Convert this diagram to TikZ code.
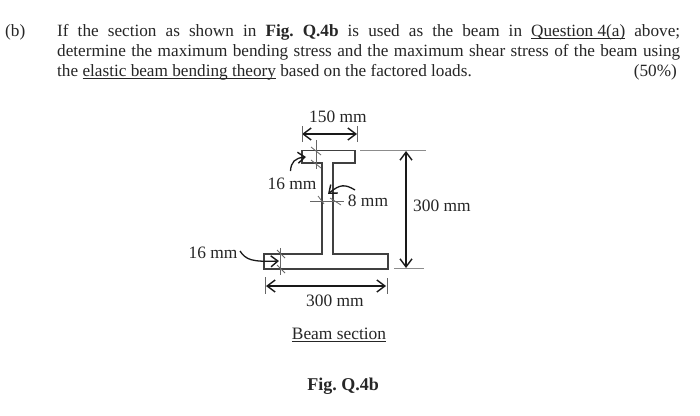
\documentclass[tikz,border=0pt]{standalone}
\usepackage{fontspec}
\setmainfont{Liberation Serif}
\usetikzlibrary{arrows.meta}
\frenchspacing
\newcommand\myul[1]{\leavevmode\setbox0=\hbox{#1}\rlap{\rule[-2.4pt]{\wd0}{0.9pt}}\box0 }
\tikzset{
  txt/.style={inner sep=0pt,anchor=base west,font=\fontsize{17.2}{18}\selectfont,text=black!85},
  lab/.style={inner sep=0pt,anchor=base,font=\fontsize{17.4}{18}\selectfont,text=black!85},
  sect/.style={draw=black!75,line width=1.3pt,line join=miter},
  dim/.style={draw=black!90,line width=1.3pt,{Straight Barb[length=8pt,width=12pt,line width=1.4pt]}-{Straight Barb[length=8pt,width=12pt,line width=1.4pt]}},
  lead/.style={draw=black!90,line width=1.3pt,-{Straight Barb[length=7pt,width=11pt,line width=1.4pt]}},
  ext/.style={draw=black!45,line width=0.9pt},
  tick/.style={draw=black!60,line width=0.8pt}
}
\begin{document}
\begin{tikzpicture}[x=1pt,y=-1pt]
\useasboundingbox (0,0) rectangle (700,415);
\fill[white] (0,0) rectangle (700,415);
\node[txt] (b) at (5,36.5) {(b)};
\node[txt] (l1) at (57,36.5) {\makebox[623pt][s]{If the section as shown in \textbf{Fig. Q.4b} is used as the beam in \myul{Question 4(a)} above;}};
\node[txt] (l2) at (57,56) {\makebox[623pt][s]{determine the maximum bending stress and the maximum shear stress of the beam using}};
\node[txt] (l3) at (57,76) {the \myul{elastic beam bending theory} based on the factored loads.};
\node[txt,anchor=base east] (pc) at (677,76) {(50\%)};

% section
\draw[sect] (322,163) -- (302,163) -- (302,150.5) -- (355,150.5) -- (355,163) -- (333,163)
  -- (333,254) -- (388,254) -- (388,269) -- (264,269) -- (264,254) -- (322,254) -- cycle;

% 150 mm
\node[lab] (t150) at (338,122) {150 mm};
\coordinate (a1) at (302,134); \coordinate (a2) at (357,134);
\draw[dim] (a1) -- (a2);
\draw[tick] (302,126) -- (302,142);
\draw[tick] (316,140) -- (316,169);
\draw[tick] (357,126) -- (357,142);
\draw[tick] (311,147) -- (321,155);
\draw[tick] (311,160) -- (321,168);

% top 16 mm
\node[lab] (t16a) at (292,189) {16 mm};
\draw[lead] (290.5,171) .. controls (291,162) and (295,158) .. (306,157);

% 8 mm
\node[lab] (t8) at (368,206) {8 mm};
\draw[tick] (310,201) -- (344,201);
\draw[tick] (318,196) -- (324,204);
\draw[tick] (330,198) -- (341,205);
\draw[lead] (355,190) .. controls (345,184) and (340,184) .. (328,194);

% 300 mm vertical
\node[lab] (t300v) at (442,211) {300 mm};
\draw[ext] (360,150.5) -- (426,150.5);
\draw[ext] (394,268.5) -- (424,268.5);
\coordinate (v1) at (406,151); \coordinate (v2) at (406,268);
\draw[dim] (v1) -- (v2);

% lower 16 mm
\node[lab] (t16b) at (213,258) {16 mm};
\draw[lead] (240,251) .. controls (246,260) and (252,262) .. (279,261);
\draw[tick] (280,248) -- (280,275);
\draw[tick] (277,250) -- (285,258);
\draw[tick] (277,265) -- (285,273);

% 300 mm horizontal
\coordinate (h1) at (266,286); \coordinate (h2) at (386,286);
\draw[dim] (h1) -- (h2);
\draw[tick] (265,277) -- (265,294);
\draw[tick] (387,278) -- (387,294);
\node[lab] (t300h) at (335,306) {300 mm};

\node[lab] (beam) at (339,339) {\myul{Beam section}};
\node[lab,font=\fontsize{18}{18}\selectfont] (fig) at (343,390) {\textbf{Fig. Q.4b}};
\end{tikzpicture}
\end{document}
